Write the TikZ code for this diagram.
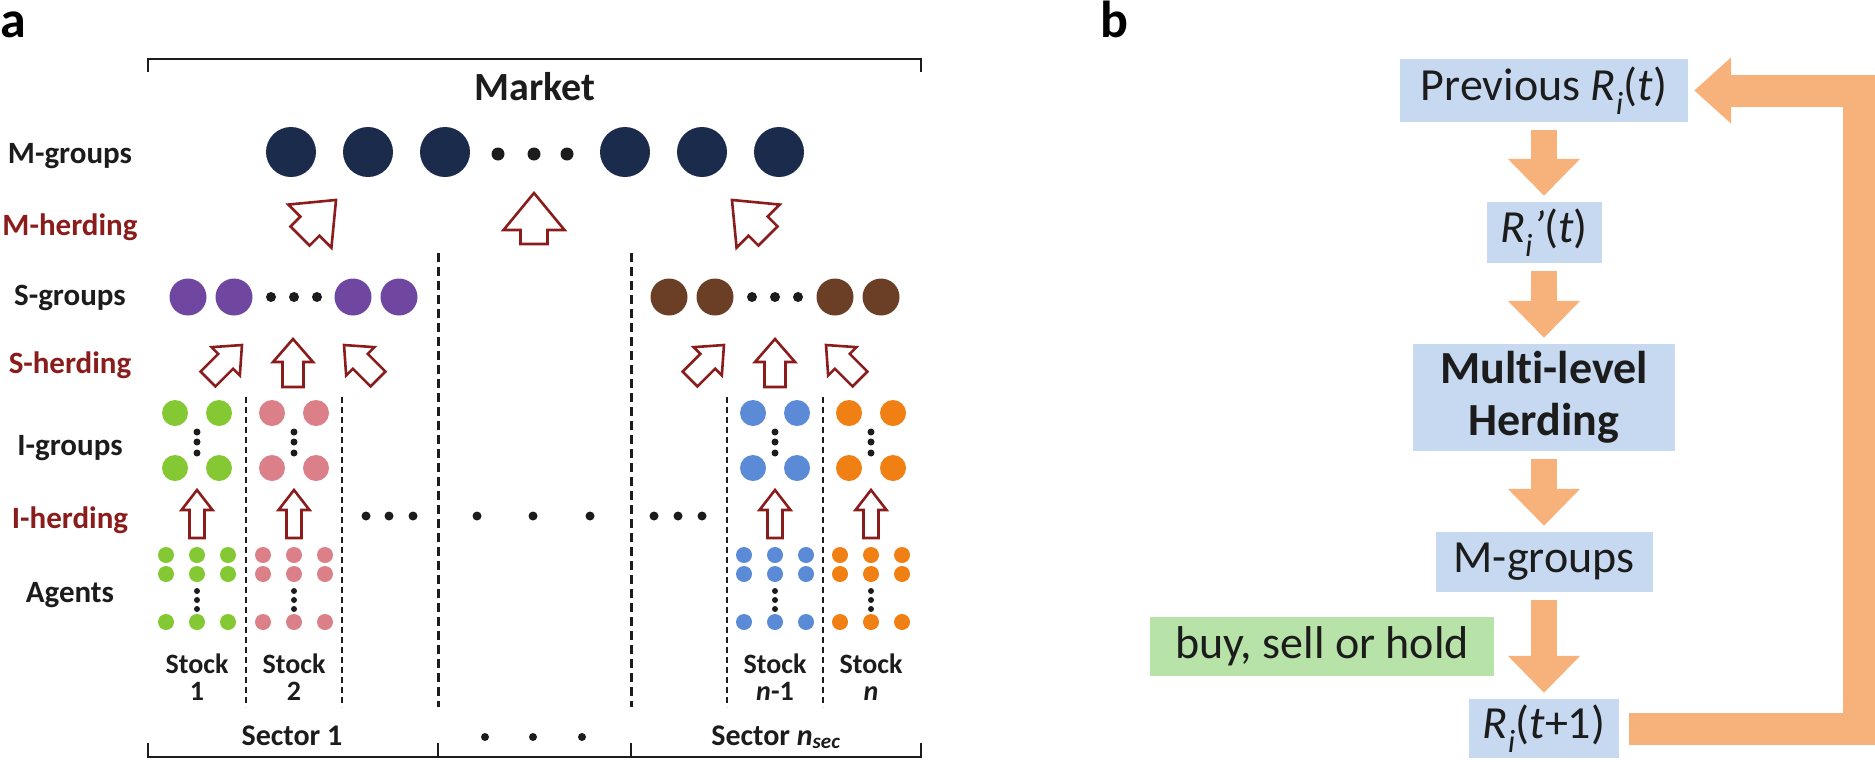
\documentclass[tikz,border=0pt]{standalone}
\usepackage{fontspec}
\setmainfont{Carlito}[Ligatures={TeX,NoCommon}]
\usetikzlibrary{arrows.meta}

\definecolor{ink}{HTML}{1C1C1C}
\definecolor{herdred}{HTML}{8B1C1C}
\definecolor{navy}{HTML}{1A2B4C}
\definecolor{spurple}{HTML}{6F47A0}
\definecolor{sbrown}{HTML}{6B3E26}
\definecolor{agreen}{HTML}{84C934}
\definecolor{apink}{HTML}{DB8089}
\definecolor{ablue}{HTML}{5B8BD6}
\definecolor{aorange}{HTML}{F07F14}
\definecolor{boxblue}{HTML}{C7D9F1}
\definecolor{buygreen}{HTML}{B7E2A8}
\definecolor{floworange}{HTML}{F7B17A}

\newcommand{\herdarrow}[7]{%
  \begin{scope}[shift={(#1,#2)},rotate=#3]
    \draw[herdline] (0,{-#4/2}) -- ({#6/2},{-#4/2+#5}) -- ({#7/2},{-#4/2+#5}) -- ({#7/2},{#4/2})
      -- ({-#7/2},{#4/2}) -- ({-#7/2},{-#4/2+#5}) -- ({-#6/2},{-#4/2+#5}) -- cycle;
  \end{scope}}

\begin{document}
\begin{tikzpicture}[x=1pt,y=-1pt,
  lab/.style={anchor=base, font=\fontsize{31}{34}\selectfont\bfseries, text=ink},
  herdlab/.style={lab, text=herdred},
  panel/.style={anchor=base west, inner sep=0pt, font=\fontsize{52}{56}\selectfont\bfseries, text=black},
  stock/.style={anchor=north, align=center, inner sep=0pt, font=\fontsize{28}{27}\selectfont\bfseries, text=ink},
  mgroup/.style={circle, fill=navy, inner sep=0pt, minimum size=50pt},
  sgroup/.style={circle, fill=#1, inner sep=0pt, minimum size=37pt},
  igroup/.style={circle, fill=#1, inner sep=0pt, minimum size=26pt},
  agent/.style={circle, fill=#1, inner sep=0pt, minimum size=16pt},
  dot/.style={circle, fill=ink, inner sep=0pt, minimum size=#1},
  herdline/.style={draw=herdred, fill=white, line width=2.6pt, line join=miter},
  brk/.style={draw=ink, line width=2.5pt},
  secline/.style={draw=ink, line width=3pt, dash pattern=on 9pt off 5pt},
  stkline/.style={draw=ink, line width=1.6pt, dash pattern=on 6pt off 4pt},
  box/.style={fill=boxblue, inner sep=0pt, font=\fontsize{46}{52}\selectfont, text=ink},
  flow/.style={draw=floworange, line width=26pt, -{Triangle[width=70pt,length=37pt]}, shorten <=8pt, shorten >=6pt}]
\useasboundingbox (0,0) rectangle (1875,761);

\node[panel] (pa) at (0,37) {a};
\node[panel] (pb) at (1100,37) {b};

\node[lab] (lmg) at (70,163) {M-groups};
\node[herdlab] (lmh) at (70,235) {M-herding};
\node[lab] (lsg) at (70,305) {S-groups};
\node[herdlab] (lsh) at (70,373) {S-herding};
\node[lab] (lig) at (70,455) {I-groups};
\node[herdlab] (lih) at (70,528) {I-herding};
\node[lab] (lag) at (70,602) {Agents};

\draw[brk] (148,72) -- (148,59) -- (921,59) -- (921,72);
\node[lab, font=\fontsize{40}{44}\selectfont\bfseries] (market) at (535,100) {Market};

\foreach \x [count=\i] in {291,368,445,625,702,779}
  \node[mgroup] (M\i) at (\x,152) {};
\foreach \x [count=\i] in {498,534,567}
  \node[dot=13pt] (Md\i) at (\x,154) {};

\herdarrow{318}{218}{-45}{51}{37}{61}{27}
\herdarrow{534}{218.5}{0}{51}{37}{61}{27}
\herdarrow{750}{218}{45}{51}{37}{61}{27}

\foreach \x in {438,631}
  \draw[secline] (\x,253) -- (\x,707);
\foreach \x in {246,342,727,823}
  \draw[stkline] (\x,397) -- (\x,707);

\foreach \x [count=\i] in {188,234,353,399}
  \node[sgroup=spurple] (S\i) at (\x,297) {};
\foreach \x [count=\i] in {669,715,835,881}
  \node[sgroup=sbrown] (T\i) at (\x,297) {};
\foreach \x [count=\i] in {271,294,317,752,775,798}
  \node[dot=10pt] (Sd\i) at (\x,297) {};

\foreach \c in {293,775} {
  \herdarrow{\c-68}{362}{-45}{48}{23}{40}{21}
  \herdarrow{\c}{363}{0}{48}{23}{40}{21}
  \herdarrow{\c+68}{362}{45}{48}{23}{40}{21}
}

\foreach \c/\col [count=\k] in {197/agreen,294/apink,775/ablue,871/aorange} {
  \foreach \dx [count=\j] in {-22,22} {
    \node[igroup=\col] (I\k-\j-u) at (\c+\dx,413) {};
    \node[igroup=\col] (I\k-\j-d) at (\c+\dx,468) {};
  }
  \foreach \y [count=\j] in {432,442,453}
    \node[dot=7pt] (Iv\k-\j) at (\c,\y) {};
  \herdarrow{\c}{514}{0}{48}{20}{31}{15}
  \foreach \dx [count=\j] in {-31,0,31} {
    \foreach \y [count=\r] in {555,574,622}
      \node[agent=\col] (A\k-\j-\r) at (\c+\dx,\y) {};
  }
  \foreach \y [count=\j] in {591,600,609}
    \node[dot=6pt] (Av\k-\j) at (\c,\y) {};
}

\foreach \x [count=\i] in {366,389,413,477,533,590,654,678,702}
  \node[dot=9pt] (Id\i) at (\x,516) {};

\node[stock] (st1) at (197,654) {Stock\\1};
\node[stock] (st2) at (294,654) {Stock\\2};
\node[stock] (st3) at (775,654) {Stock\\\textit{n}-1};
\node[stock] (st4) at (871,654) {Stock\\\textit{n}};

\node[lab, font=\fontsize{30}{33}\selectfont\bfseries] (sec1) at (292,745) {Sector 1};
\node[lab, font=\fontsize{30}{33}\selectfont\bfseries] (secn) at (776,745) {Sector \textit{n}\textsubscript{\textit{sec}}};
\foreach \x [count=\i] in {485,533,582}
  \node[dot=8pt] (Bd\i) at (\x,737) {};
\draw[brk] (148,743) -- (148,757) -- (921,757) -- (921,743);
\draw[brk] (438,743) -- (438,757) (631,743) -- (631,757);

\node[box, minimum width=288pt, minimum height=63pt] (prev) at (1544,90.5) {Previous \textit{R}\textsubscript{\textit{i}}(\textit{t})};
\node[box, minimum width=115pt, minimum height=61pt] (rprime) at (1544,232.5) {\textit{R}\textsubscript{\textit{i}}\textit{'}(\textit{t})};
\node[box, minimum width=262pt, minimum height=107pt, align=center, font=\fontsize{46}{52}\selectfont\bfseries] (multi) at (1544,397.5) {Multi-level\\Herding};
\node[box, minimum width=217pt, minimum height=60pt] (mgrp) at (1544,562) {M-groups};
\node[box, fill=buygreen, minimum width=344pt, minimum height=59pt] (act) at (1322,646.5) {buy, sell or hold};
\node[box, minimum width=150pt, minimum height=59pt] (rnext) at (1544,728.5) {\textit{R}\textsubscript{\textit{i}}(\textit{t}+1)};

\draw[flow] (prev) -- (rprime);
\draw[flow] (rprime) -- (multi);
\draw[flow] (multi) -- (mgrp);
\draw[flow] (mgrp) -- (rnext);

\coordinate (loop) at (1859,400);
\draw[draw=floworange, line width=32pt, line join=miter, -{Triangle[width=64pt,length=37pt]}]
  ([xshift=10pt]rnext.east) -| (loop) |- ([xshift=6pt]prev.east);
\end{tikzpicture}
\end{document}
